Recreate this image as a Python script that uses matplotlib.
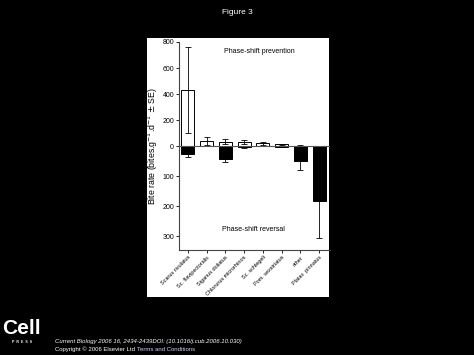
import matplotlib
matplotlib.use('Agg')
import matplotlib.pyplot as plt
import numpy as np

plt.rcParams['font.family'] = ['Liberation Sans', 'DejaVu Sans']

species = ['Scarus rivulatus', 'Sc. flavipectoralis', 'Siganus doliatus',
           'Chlorurus microrhinos', 'Sc. schlegeli', 'Pom. sexstriatus',
           'other', 'Platax  pinnatus']
prevention = [428, 40, 36, 33, 23, 15, 5, 0]
prevention_se = [330, 30, 16, 15, 13, 5, 3, 0]
reversal = [27, 0, 41, 4, 0, 3, 49, 182]
reversal_se = [9, 0, 13, 3, 0, 1, 31, 123]
yticks = [-300, -200, -100, 0, 200, 400, 600, 800]

# lower half (reversal) is stretched relative to the upper half
k = 2.31
def fwd(y):
    y = np.asarray(y, dtype=float)
    return np.where(y >= 0, y, y * k)
def inv(y):
    y = np.asarray(y, dtype=float)
    return np.where(y >= 0, y, y / k)

fig = plt.figure(figsize=(4.74, 3.55), dpi=100)
fig.patch.set_facecolor('black')

# white panel behind the chart
bg = fig.add_axes([0.310, 0.1634, 0.384, 0.7296])
bg.set_facecolor('white')
bg.set_xticks([])
bg.set_yticks([])
for s in bg.spines.values():
    s.set_visible(False)
bg.set_zorder(0)

ax = fig.add_axes([0.3776, 0.2958, 0.3186, 0.5859])
ax.set_zorder(1)
ax.set_facecolor('none')
ax.set_yscale('function', functions=(fwd, inv))
ax.set_ylim(-345, 800)
ax.set_xlim(-0.47, 7.58)

x = np.arange(len(species))
ax.bar(x, prevention, width=0.7, color='white', edgecolor='black', linewidth=0.7, zorder=2)
ax.errorbar(x, prevention, yerr=prevention_se, fmt='none', ecolor='black',
            elinewidth=0.6, capsize=2, capthick=0.6, zorder=3)
rev = -np.array(reversal)
ax.bar(x, rev, width=0.7, color='black', edgecolor='black', linewidth=0.7, zorder=2)
ax.errorbar(x, rev, yerr=reversal_se, fmt='none', ecolor='black',
            elinewidth=0.6, capsize=2, capthick=0.6, zorder=3)
ax.axhline(0, color='#555555', linewidth=0.8, zorder=4)

ax.set_yticks(yticks)
ax.set_yticklabels([str(abs(t)) for t in yticks], fontsize=5)
ax.set_xticks(x)
ax.set_xticklabels(species, rotation=45, ha='right', rotation_mode='anchor', fontsize=4)
ax.tick_params(axis='both', length=2, width=0.6, pad=1.5, colors='black')
for s in ['top', 'right']:
    ax.spines[s].set_visible(False)
for s in ['left', 'bottom']:
    ax.spines[s].set_linewidth(0.8)
    ax.spines[s].set_color('#444444')

ax.set_ylabel(r'Bite rate (bites.g$^{-1}$.d$^{-1}$ $\pm$ SE)', fontsize=6.3, labelpad=2)
ax.text(0.53, 0.955, 'Phase-shift prevention', transform=ax.transAxes,
        ha='center', va='center', fontsize=5)
ax.text(0.49, 0.1, 'Phase-shift reversal', transform=ax.transAxes,
        ha='center', va='center', fontsize=5)

fig.text(0.5, 0.966, 'Figure 3', color='white', ha='center', va='center', fontsize=6)
fig.text(0.046, 0.074, 'Cell', color='white', ha='center', va='center',
         fontsize=15, fontweight='bold')
fig.text(0.046, 0.036, 'P  R  E  S  S', color='white', ha='center', va='center',
         fontsize=2.5, fontweight='bold')
fig.text(0.116, 0.037, 'Current Biology 2006 16, 2434-2439DOI: (10.1016/j.cub.2006.10.030)',
         color='white', ha='left', va='center', fontsize=4.3, style='italic')
fig.text(0.116, 0.015, 'Copyright \u00a9 2006 Elsevier Ltd', color='white',
         ha='left', va='center', fontsize=4.3)
fig.text(0.288, 0.015, 'Terms and Conditions', color='#ccccff',
         ha='left', va='center', fontsize=4.3)

plt.savefig('out.png', dpi=100, facecolor='black')
